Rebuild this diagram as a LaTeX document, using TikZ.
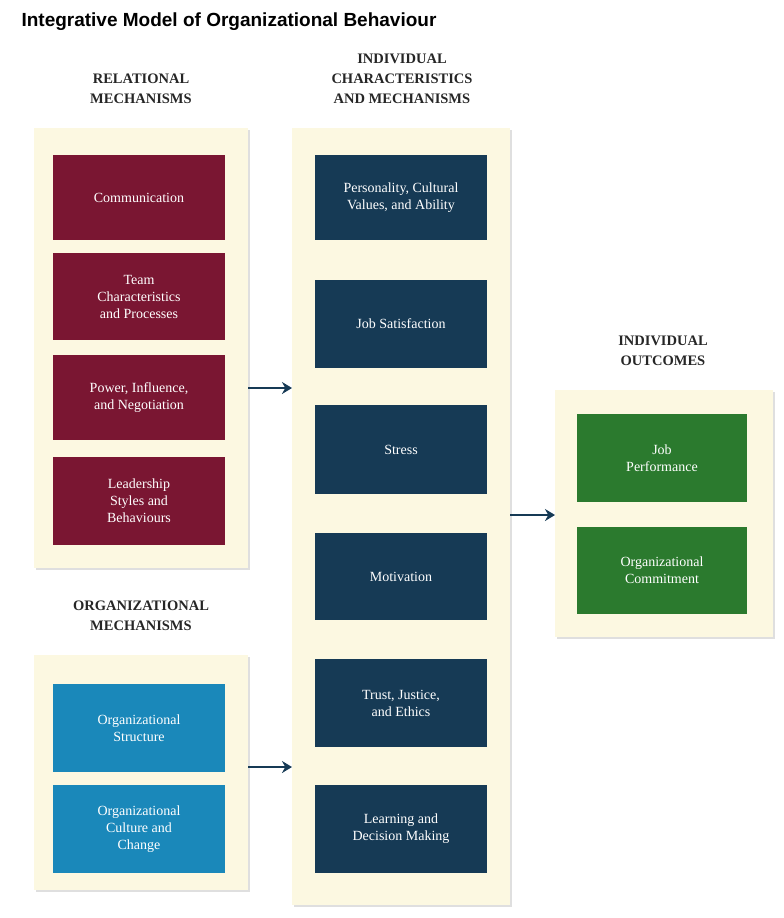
\documentclass[tikz,border=0pt]{standalone}
\usepackage{fontspec}
\setmainfont{Liberation Serif}
\newfontfamily\titlefont{Liberation Sans}
\usetikzlibrary{arrows.meta,shadows}
\definecolor{maroon}{HTML}{7A1632}
\definecolor{navy}{HTML}{163A55}
\definecolor{oblue}{HTML}{1A88BA}
\definecolor{ogreen}{HTML}{2B7A2E}
\definecolor{cream}{HTML}{FCF8E1}
\begin{document}
\begin{tikzpicture}[x=1pt,y=-1pt,
 panel/.style={fill=cream,draw=none,drop shadow={shadow xshift=2pt,shadow yshift=-2pt,opacity=0.25}},
 box/.style={text=white,font=\fontsize{14}{17}\selectfont,align=center,inner sep=0pt},
 head/.style={font=\bfseries\fontsize{14.5}{20}\selectfont,align=center,text=black!85},
 arr/.style={-{Stealth[length=10pt,width=12pt]},line width=2.2pt,draw=navy}]
\useasboundingbox (0,0) rectangle (784,918);
\node[anchor=west,font=\titlefont\bfseries\fontsize{19}{22}\selectfont] (title) at (18,22) {Integrative Model of Organizational Behaviour};
\fill[panel] (34,128) rectangle (248,568);
\fill[panel] (34,655) rectangle (248,890);
\fill[panel] (292,128) rectangle (510,905);
\fill[panel] (555,390) rectangle (773,637);
\coordinate (rp) at (248,388); \coordinate (mp1) at (292,388);
\coordinate (op) at (248,767); \coordinate (mp2) at (292,767);
\coordinate (mp3) at (510,515); \coordinate (ip) at (555,515);
\node[head] (h1) at (141,89) {RELATIONAL\\MECHANISMS};
\node[head] (h2) at (402,79) {INDIVIDUAL\\CHARACTERISTICS\\AND MECHANISMS};
\node[head] (h3) at (663,351) {INDIVIDUAL\\OUTCOMES};
\node[head] (h4) at (141,616) {ORGANIZATIONAL\\MECHANISMS};
\foreach \n/\a/\b/\t in {r1/155/240/Communication, r2/253/340/{Team\\Characteristics\\and Processes}, r3/355/440/{Power, Influence,\\and Negotiation}, r4/457/545/{Leadership\\Styles and\\Behaviours}}{
 \fill[maroon] (53,\a) rectangle (225,\b);
 \node[box] (\n) at (139,{(\a+\b)/2}) {\t};}
\foreach \n/\a/\b/\t in {o1/684/772/{Organizational\\Structure}, o2/785/873/{Organizational\\Culture and\\Change}}{
 \fill[oblue] (53,\a) rectangle (225,\b);
 \node[box] (\n) at (139,{(\a+\b)/2}) {\t};}
\foreach \n/\a/\b/\t in {m1/155/240/{Personality, Cultural\\Values, and Ability}, m2/280/368/Job Satisfaction, m3/405/494/Stress, m4/533/620/Motivation, m5/659/747/{Trust, Justice,\\and Ethics}, m6/785/873/{Learning and\\Decision Making}}{
 \fill[navy] (315,\a) rectangle (487,\b);
 \node[box] (\n) at (401,{(\a+\b)/2}) {\t};}
\foreach \n/\a/\b/\t in {g1/414/502/{Job\\Performance}, g2/527/614/{Organizational\\Commitment}}{
 \fill[ogreen] (577,\a) rectangle (747,\b);
 \node[box] (\n) at (662,{(\a+\b)/2}) {\t};}
\draw[arr] (rp) -- (mp1);
\draw[arr] (op) -- (mp2);
\draw[arr] (mp3) -- (ip);
\end{tikzpicture}
\end{document}
